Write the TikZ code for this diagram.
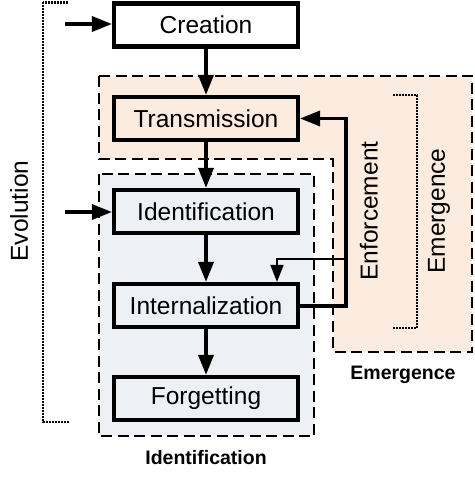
\documentclass[tikz,border=0pt]{standalone}
\usepackage{fontspec}
\setmainfont{Liberation Sans}
\usetikzlibrary{arrows.meta,calc}
\definecolor{peach}{RGB}{252,236,223}
\definecolor{paleblue}{RGB}{237,241,246}
\tikzset{
  stagebox/.style={draw=black, line width=4.2pt, minimum width=184pt, minimum height=43pt,
    inner sep=0pt, font=\fontsize{24.5}{29}\selectfont},
  flowarr/.style={line width=3.4pt, -{Triangle[length=20pt,width=15pt]}},
  thinarr/.style={line width=1.9pt, -{Triangle[length=17pt,width=13pt]}},
  regionline/.style={line width=2.8pt, dash pattern=on 11pt off 5.5pt},
  dotline/.style={line width=2.2pt, dash pattern=on 1.6pt off 1.4pt},
  sidelabel/.style={font=\fontsize{24.5}{29}\selectfont, rotate=90, inner sep=0pt},
  boldlabel/.style={font=\fontsize{19.5}{23}\selectfont\bfseries, inner sep=0pt}
}
\begin{document}
\begin{tikzpicture}[x=1pt,y=-1pt]
\useasboundingbox (0,0) rectangle (474,479);
% regions
\fill[peach] (99,76) -- (472,76) -- (472,352) -- (333,352) -- (333,159) -- (99,159) -- cycle;
\draw[regionline] (99,76) -- (472,76) -- (472,352) -- (333,352) -- (333,159) -- (99,159) -- cycle;
\fill[paleblue] (99,174) rectangle (314,436);
\draw[regionline] (99,174) rectangle (314,436);
% boxes
\node[stagebox, fill=white] (cre) at (206,25) {Creation};
\node[stagebox, fill=peach] (tra) at (206,118.5) {Transmission};
\node[stagebox, fill=paleblue] (ide) at (206,211.5) {Identification};
\node[stagebox, fill=paleblue] (int) at (206,305.5) {Internalization};
\node[stagebox, fill=paleblue] (for) at (206,398.5) {Forgetting};
% flow arrows
\draw[flowarr] (cre) -- (tra);
\draw[flowarr] (tra) -- (ide);
\draw[flowarr] (ide) -- (int);
\draw[flowarr] (int) -- (for);
% inputs
\coordinate (in1) at (65,24);
\coordinate (in2) at (65,212);
\draw[flowarr] (in1) -- (in1 -| cre.west);
\draw[flowarr] (in2) -- (in2 -| ide.west);
% enforcement loop
\coordinate (eR) at (346,306);
\coordinate (eT) at (346,118.5);
\coordinate (eM) at (346,259);
\draw[flowarr] (int.east |- eR) -- (eR) -- (eT) -- (tra.east);
\draw[thinarr] (eM) -| ([xshift=71pt]int.north);
% labels
\node[sidelabel] (enf) at (369,211) {Enforcement};
\node[sidelabel] (eml) at (439,211) {Emergence};
\node[sidelabel] (evo) at (19,211) {Evolution};
\node[boldlabel] (emb) at (403,375) {Emergence};
\node[boldlabel] (idb) at (206,458) {Identification};
% brackets
\draw[dotline] (393,95) -- (417,95) -- (417,328) -- (393,328);
\draw[dotline, line width=3pt] (68,2) -- (43,2);
\draw[dotline] (43,2) -- (43,422) -- (69,422);
\end{tikzpicture}
\end{document}
